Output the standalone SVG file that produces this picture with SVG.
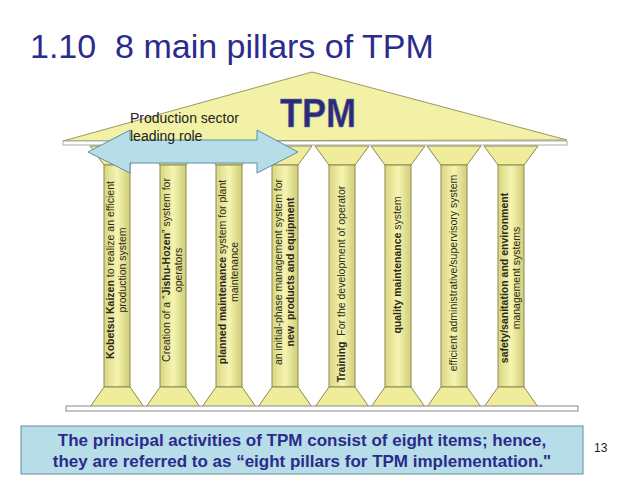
<svg xmlns="http://www.w3.org/2000/svg" width="638" height="478" viewBox="0 0 638 478">
<defs>
<linearGradient id="sh" x1="0" x2="1" y1="0" y2="0"><stop offset="0" stop-color="#d8d680"/><stop offset="0.5" stop-color="#f6f4b0"/><stop offset="1" stop-color="#d0ce78"/></linearGradient>
<g id="pillar">
<polygon points="-27,146 27,146 13,165 -13,165" class="p"/>
<rect x="-13" y="165" width="26" height="222" fill="url(#sh)" stroke="#8c8a50" stroke-width="1"/>
<polygon points="-13,387 13,387 27,407 -27,407" class="p"/>
</g>
</defs>
<style>
.p{fill:#efed9c;stroke:#8c8a50;stroke-width:1}
.t{font-family:"Liberation Sans",Arial,sans-serif;font-size:10.5px;fill:#2a2a1a;text-anchor:middle}
.b{font-weight:bold}
</style>
<rect width="638" height="478" fill="#fff"/>
<text x="30" y="58" font-family="Liberation Sans,Arial,sans-serif" font-size="34" fill="#2b2b8c" xml:space="preserve">1.10  8 main pillars of TPM</text>
<g id="roof">
<polygon points="63,141 312,72 567,140" fill="#f3f1a6" stroke="#9a9860" stroke-width="1"/>
<rect x="63" y="141" width="504" height="4" fill="#fff" stroke="#999" stroke-width="0.8"/>
<text transform="translate(280,127) scale(0.88,1)" font-family="Liberation Sans,Arial,sans-serif" font-size="41" font-weight="bold" fill="#2a2a7a" stroke="#7a7aa0" stroke-width="0.6">TPM</text>
</g>
<g id="pillars">
<g id="p1"><use href="#pillar" x="117"/><g transform="translate(117,270) rotate(-90)"><text class="t" y="-3"><tspan class="b">Kobetsu Kaizen</tspan> to realize an efficient</text><text class="t" y="9">production system</text></g></g>
<g id="p2"><use href="#pillar" x="173"/><g transform="translate(173,270) rotate(-90)"><text class="t" y="-3">Creation of a “<tspan class="b">Jishu-Hozen</tspan>” system for</text><text class="t" y="9">operators</text></g></g>
<g id="p3"><use href="#pillar" x="229"/><g transform="translate(229,272) rotate(-90)"><text class="t" y="-3"><tspan class="b">planned maintenance</tspan> system for plant</text><text class="t" y="9">maintenance</text></g></g>
<g id="p4"><use href="#pillar" x="285"/><g transform="translate(285,272) rotate(-90)"><text class="t" y="-3">an initial-phase management system for</text><text class="t b" y="9" xml:space="preserve">new  products and equipment</text></g></g>
<g id="p5"><use href="#pillar" x="342"/><g transform="translate(342,284) rotate(-90)"><text class="t" y="3" xml:space="preserve"><tspan class="b">Training</tspan>  For the development of operator</text></g></g>
<g id="p6"><use href="#pillar" x="398"/><g transform="translate(398,265) rotate(-90)"><text class="t" y="3"><tspan class="b">quality maintenance</tspan> system</text></g></g>
<g id="p7"><use href="#pillar" x="454"/><g transform="translate(454,273) rotate(-90)"><text class="t" y="3">efficient administrative/supervisory system</text></g></g>
<g id="p8"><use href="#pillar" x="511"/><g transform="translate(511,278) rotate(-90)"><text class="t b" y="-3">safety/sanitation and environment</text><text class="t" y="9">management systems</text></g></g>
</g>
<rect id="floor" x="66" y="406" width="512" height="5" fill="#fff" stroke="#888" stroke-width="1"/>
<g id="connectors">
<polygon points="88,152 130,130 130,140 257,140 257,130 298,152 257,173 257,163 130,163 130,173" fill="#b7dde8" stroke="#5a8fa8" stroke-width="1"/>
</g>
<g id="label">
<text x="130" y="123" font-family="Liberation Sans,Arial,sans-serif" font-size="14" fill="#222">Production sector</text>
<text x="130" y="141" font-family="Liberation Sans,Arial,sans-serif" font-size="14" fill="#222">leading role</text>
</g>
<g id="note">
<rect x="21" y="426" width="562" height="48" fill="#b7dde8" stroke="#6b8a99" stroke-width="1"/>
<text x="302" y="446" text-anchor="middle" font-family="Liberation Sans,Arial,sans-serif" font-size="17" font-weight="bold" fill="#2b2b8c">The principal activities of TPM consist of eight items; hence,</text>
<text x="302" y="467" text-anchor="middle" font-family="Liberation Sans,Arial,sans-serif" font-size="17" font-weight="bold" fill="#2b2b8c">they are referred to as “eight pillars for TPM implementation."</text>
</g>
<text x="594" y="452" font-family="Liberation Sans,Arial,sans-serif" font-size="12" fill="#222">13</text>
</svg>
